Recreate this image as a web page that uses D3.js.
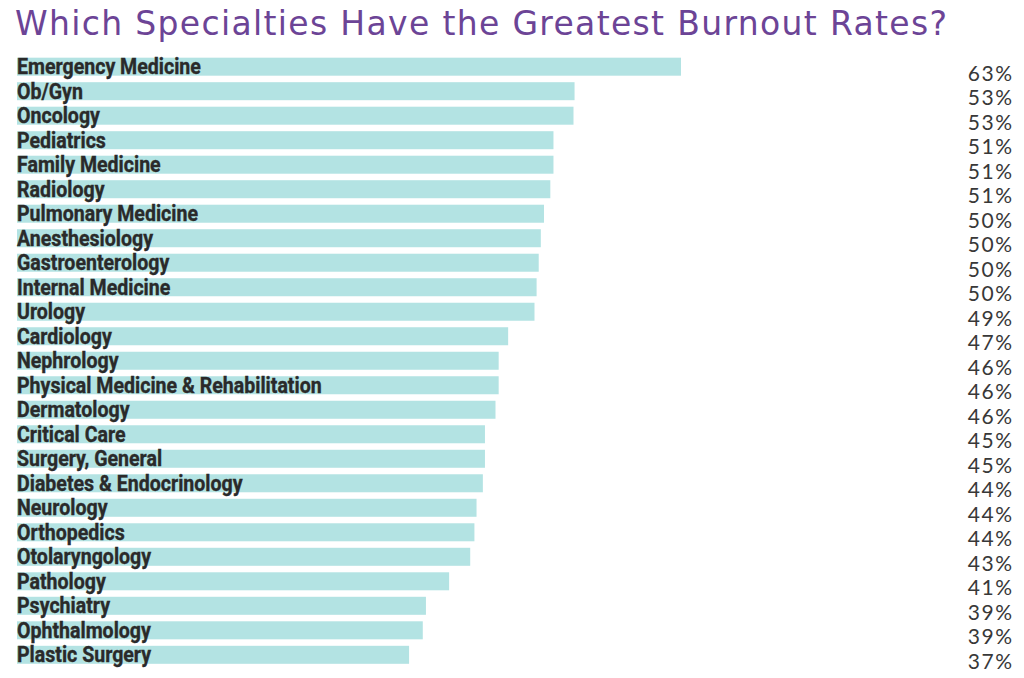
<!DOCTYPE html>
<html>
<head>
<meta charset="utf-8">
<script src="https://cdn.jsdelivr.net/npm/d3@7"></script>
<style>
  html, body { margin: 0; padding: 0; background: #ffffff; }
  svg { display: block; }
</style>
</head>
<body>
<svg id="chart" width="1024" height="678"></svg>
<script>
const categories = [
  "Emergency Medicine", "Ob/Gyn", "Oncology", "Pediatrics", "Family Medicine",
  "Radiology", "Pulmonary Medicine", "Anesthesiology", "Gastroenterology",
  "Internal Medicine", "Urology", "Cardiology", "Nephrology",
  "Physical Medicine & Rehabilitation", "Dermatology", "Critical Care",
  "Surgery, General", "Diabetes & Endocrinology", "Neurology", "Orthopedics",
  "Otolaryngology", "Pathology", "Psychiatry", "Ophthalmology", "Plastic Surgery"
];
const values = [
  63.0, 52.9, 52.8, 50.9, 50.9,
  50.6, 50.0, 49.7, 49.5,
  49.3, 49.1, 46.6, 45.7,
  45.7, 45.4, 44.4,
  44.4, 44.2, 43.6, 43.4,
  43.0, 41.0, 38.8, 38.5, 37.2
];
const valueLabels = [
  "63%", "53%", "53%", "51%", "51%",
  "51%", "50%", "50%", "50%",
  "50%", "49%", "47%", "46%",
  "46%", "46%", "45%",
  "45%", "44%", "44%", "44%",
  "43%", "41%", "39%", "39%", "37%"
];
const titleText = "Which Specialties Have the Greatest Burnout Rates?";

const svg = d3.select("#chart");

const x = d3.scaleLinear().domain([0, 63]).range([17, 681]);
const y = d3.scaleBand().domain(categories).range([54.5, 667]).paddingInner(0.265).paddingOuter(0.13);

// title
const title = svg.append("text")
  .attr("x", 15)
  .attr("y", 35)
  .attr("font-family", "'DejaVu Sans', 'Open Sans', sans-serif")
  .attr("font-size", 33)
  .attr("fill", "#6c4496")
  .text(titleText);
const tw = title.node().getComputedTextLength();
title.attr("letter-spacing", ((932 - tw) / (titleText.length - 1)).toFixed(3) + "px");

// bars
svg.append("g").selectAll("rect")
  .data(categories)
  .join("rect")
  .attr("x", x(0))
  .attr("y", d => y(d))
  .attr("width", (d, i) => x(values[i]) - x(0))
  .attr("height", y.bandwidth())
  .attr("fill", "#b3e3e3");

// category labels (condensed bold)
const labels = svg.append("g").selectAll("text")
  .data(categories)
  .join("text")
  .attr("font-family", "Roboto, 'Liberation Sans', sans-serif")
  .attr("font-weight", 700)
  .attr("font-size", 21.5)
  .attr("fill", "#2a2a2a")
  .attr("stroke", "#2a2a2a")
  .attr("stroke-width", 0.35)
  .text(d => d);

const firstW = labels.node().getComputedTextLength();
const sx = 184 / firstW;
labels.attr("transform", d => `translate(17,${y(d) + y.bandwidth() - 1.5}) scale(${sx},1)`);

// value labels
svg.append("g").selectAll("text")
  .data(categories)
  .join("text")
  .attr("x", 1013.5)
  .attr("y", d => y(d) + y.bandwidth() + 5)
  .attr("text-anchor", "end")
  .attr("font-family", "Lato, 'Open Sans', sans-serif")
  .attr("font-size", 21)
  .attr("letter-spacing", "1.5px")
  .attr("fill", "#383838")
  .text((d, i) => valueLabels[i]);
</script>
</body>
</html>
